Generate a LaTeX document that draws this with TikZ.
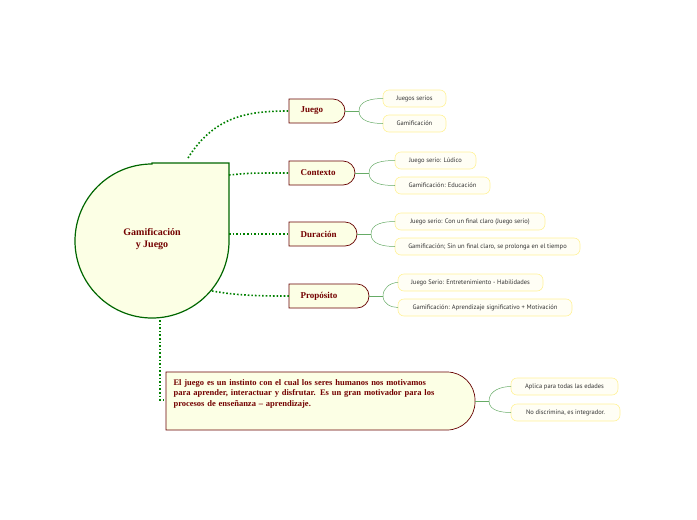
\documentclass[tikz,border=0pt]{standalone}
\usepackage{fontspec}
\setmainfont{Liberation Serif}
\newfontfamily\leaffont{PT Sans}
\begin{document}
\begin{tikzpicture}[x=1pt,y=-1pt,
  mainbox/.style={draw=red!40!black,fill=green!12!yellow!10,line width=0.7pt},
  leafbox/.style={draw=orange!25!yellow!40,fill=yellow!4,rounded corners=6pt,line width=0.6pt},
  dotline/.style={draw=green!50!black,dotted,line width=1.6pt},
  branch/.style={draw=green!45!black!60,line width=0.5pt},
  mtext/.style={text=red!45!black,font=\bfseries\small},
  ltext/.style={font=\leaffont\fontsize{6.5}{7}\selectfont,text=black!80}]
\useasboundingbox (0,0) rectangle (697,520);
% central
\path[fill=green!12!yellow!10,draw=green!40!black,line width=1.2pt] (152,163) -- (229,163) -- (229,241) arc[start angle=0,end angle=270,radius=77] -- cycle;
\node[mtext,font=\bfseries\normalsize,align=center] (c) at (152,239) {Gamificación\\y Juego};
\coordinate (ctop) at (188,158);
% main boxes
\newcommand\mainbx[6]{% name, x1,y1,x2,y2,text
 \path[mainbox] (#2,#3) [rounded corners=12pt] -- (#4,#3) -- (#4,#5) [sharp corners] -- (#2,#5) -- cycle;
 \node[mtext,anchor=west] (#1) at (#2+8,{(#3+#5)/2}) {#6};
 \coordinate (#1L) at (#2,{(#3+#5)/2});
 \coordinate (#1R) at (#4,{(#3+#5)/2});}
\mainbx{j}{289}{99}{345}{123}{Juego}
\mainbx{k}{289}{161}{355}{185}{Contexto}
\mainbx{d}{289}{222}{357}{246}{Duración}
\mainbx{p}{289}{284}{369}{308}{Propósito}
% leaves
\newcommand\leafbx[6]{\path[leafbox] (#2,#3) rectangle (#4,#5);
 \node[ltext] (#1) at ({(#2+#4)/2},{(#3+#5)/2}) {#6};
 \coordinate (#1L) at (#2,{(#3+#5)/2});}
\leafbx{j1}{383}{90}{446}{107}{Juegos serios}
\leafbx{j2}{383}{115}{446}{132}{Gamificación}
\leafbx{k1}{395}{152}{476}{169}{Juego serio: Lúdico}
\leafbx{k2}{395}{177}{490}{194}{Gamificación: Educación}
\leafbx{d1}{395}{213}{545}{230}{Juego serio: Con un final claro (Juego serio)}
\leafbx{d2}{395}{238}{580}{255}{Gamificación; Sin un final claro, se prolonga en el tiempo}
\leafbx{p1}{398}{274}{543}{291}{Juego Serio: Entretenimiento - Habilidades}
\leafbx{p2}{398}{299}{572}{316}{Gamificación: Aprendizaje significativo + Motivación}
\leafbx{b1}{511}{378}{618}{395}{Aplica para todas las edades}
\leafbx{b2}{511}{404}{620}{421}{No discrimina, es integrador.}
% big box
\path[mainbox] (166,372) [rounded corners=28pt] -- (475,372) -- (475,430) [sharp corners] -- (166,430) -- cycle;
\node[mtext,font=\bfseries\fontsize{8.5}{10.5}\selectfont,align=left,anchor=north west,text width=265pt] (big) at (170,376) {El juego es un instinto con el cual los seres humanos nos motivamos para aprender, interactuar y disfrutar. Es un gran motivador para los procesos de enseñanza – aprendizaje.};
\coordinate (bigL) at (166,400);
\coordinate (bigR) at (475,401);
% dotted connectors
\draw[dotline] (ctop) .. controls (215,115) and (250,111) .. (jL);
\draw[dotline] (229,175) .. controls (250,173) .. (kL);
\draw[dotline] (229,234) -- (dL);
\draw[dotline] (212,291) .. controls (240,296) and (265,296) .. (pL);
\draw[dotline] (160,320) -- (160,400) -- (bigL);
% branches
\foreach \a/\b/\c in {jR/j1L/j2L,kR/k1L/k2L,dR/d1L/d2L,pR/p1L/p2L,bigR/b1L/b2L}{
 \draw[branch] (\a) -- ++(14,0) coordinate (m);
 \draw[branch] (m) to[out=90,in=180] (\b);
 \draw[branch] (m) to[out=-90,in=180] (\c);}
\end{tikzpicture}
\end{document}
